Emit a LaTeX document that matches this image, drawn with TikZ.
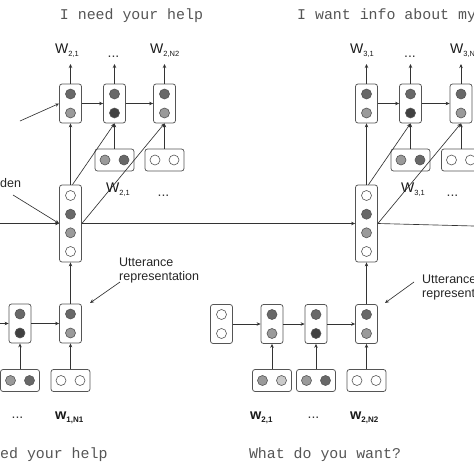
\documentclass[tikz,border=0pt]{standalone}
\usepackage{fontspec}
\setmainfont{Liberation Sans}
\newfontfamily\monofont{Liberation Mono}
\usetikzlibrary{arrows.meta,calc}
\definecolor{cA}{HTML}{686868}
\definecolor{cB}{HTML}{9A9A9A}
\definecolor{cC}{HTML}{404040}
\definecolor{cD}{HTML}{CACACA}
\definecolor{lineC}{HTML}{333333}
\definecolor{boxC}{HTML}{555555}
\definecolor{titleC}{HTML}{555555}
\tikzset{
 cellbox/.style={draw=boxC, line width=0.75pt, rounded corners=2.5pt, inner sep=0pt, fill=white},
 vbox/.style={cellbox, minimum width=22pt, minimum height=39pt},
 hbox/.style={cellbox, minimum width=39pt, minimum height=22pt},
 ctxbox/.style={cellbox, minimum width=22pt, minimum height=77pt},
 unit/.style={circle, draw=boxC, line width=0.6pt, minimum size=10pt, inner sep=0pt},
 conn/.style={draw=lineC, line width=0.65pt},
 arr/.style={conn, -{Stealth[length=4pt,width=3.5pt]}},
 title/.style={font=\monofont\fontsize{14.9}{16}\selectfont, text=titleC, inner sep=0pt},
 lbl/.style={font=\fontsize{12.5}{14}\selectfont, text=black!85, inner sep=0pt, anchor=base west},
 wlab/.style={font=\fontsize{14}{15}\selectfont, text=black!90, inner sep=0pt, anchor=base west},
 blab/.style={font=\bfseries\fontsize{14.5}{15}\selectfont, text=black!90, inner sep=0pt, anchor=base west},
 dots/.style={font=\fontsize{14}{15}\selectfont, text=black!80, inner sep=0pt},
}
\newcommand\lowsub[1]{\raisebox{-3.5pt}{\fontsize{7.5}{8}\selectfont #1}}
\newcommand\blowsub[1]{\raisebox{-3.5pt}{\fontsize{8}{9}\selectfont #1}}
\newcommand\vcell[5]{%
 \node[vbox] (#1) at (#2,#3) {};
 \node[unit, fill=#4] (#1a) at (#2,#3-9.5) {};
 \node[unit, fill=#5] (#1b) at (#2,#3+9.5) {};}
\newcommand\hcell[5]{%
 \node[hbox] (#1) at (#2,#3) {};
 \node[unit, fill=#4] (#1a) at (#2-9.5,#3) {};
 \node[unit, fill=#5] (#1b) at (#2+9.5,#3) {};}
\newcommand\ctxcell[3]{%
 \node[ctxbox] (#1) at (#2,#3) {};
 \node[unit, fill=white] (#1a) at (#2,#3-28) {};
 \node[unit, fill=cA] (#1b) at (#2,#3-9.3) {};
 \node[unit, fill=cB] (#1c) at (#2,#3+9.3) {};
 \node[unit, fill=white] (#1d) at (#2,#3+28) {};}
\begin{document}
\begin{tikzpicture}[x=1pt,y=-1pt]
\useasboundingbox (0,0) rectangle (474,474);
% titles
\node[title] (t1) at (131.5,15.5) {I need your help};
\node[title, anchor=west] (t2) at (297,15.5) {I want info about my};
\node[title, anchor=west] (t3) at (0,455) {ed your help};
\node[title] (t4) at (325,455) {What do you want?};

% ---- top-left decoder
\vcell{d1}{70.5}{103.5}{cA}{cB}
\vcell{d2}{114.5}{103.5}{cA}{cC}
\vcell{d3}{164.5}{103.5}{cA}{cB}
\hcell{di1}{114.5}{160}{cB}{cA}
\hcell{di2}{164.5}{160}{white}{white}
\ctxcell{c1}{70.5}{223.5}

% ---- bottom-left encoder
\vcell{eA}{20}{323.5}{cA}{cC}
\vcell{eB}{70.5}{323.5}{cA}{cB}
\hcell{ei1}{20}{380.5}{cB}{cA}
\hcell{ei2}{70.5}{380.5}{white}{white}

% ---- bottom-right encoder
\vcell{f0}{221.5}{324}{white}{white}
\vcell{f1}{272}{324}{cA}{cB}
\vcell{f2}{316}{324}{cA}{cC}
\vcell{f3}{366.5}{324}{cA}{cB}
\hcell{fi1}{272}{380.5}{cB}{cD}
\hcell{fi2}{316}{380.5}{cB}{cA}
\hcell{fi3}{366.5}{380.5}{white}{white}
\ctxcell{c2}{366.5}{223.5}

% ---- top-right decoder
\vcell{g1}{366.5}{103.5}{cA}{cB}
\vcell{g2}{410.5}{103.5}{cA}{cC}
\vcell{g3}{461}{103.5}{cA}{cB}
\hcell{gi1}{410.5}{160}{cB}{cA}
\hcell{gi2}{461}{160}{white}{white}

% free ends
\coordinate (d1o) at (70.5,64);
\coordinate (d3o) at (164.5,64);
\coordinate (d2o) at (114.5,64);
\coordinate (g1o) at (366.5,64);
\coordinate (g2o) at (410.5,64);
\coordinate (g3o) at (461,64);
\coordinate (tl) at (20,121);
\coordinate (hin) at (0,223.5);
\coordinate (ein) at (0,323.5);
\coordinate (rout) at (474,226);
\coordinate (denS) at (13,195);
\coordinate (u1S) at (120,282);
\coordinate (u1E) at (90,303);
\coordinate (u2S) at (414,282);
\coordinate (u2E) at (385,303);

% connectors top-left
\draw[arr] (d1) -- (d1o);
\draw[arr] (d2) -- (d2o);
\draw[arr] (d3) -- (d3o);
\draw[arr] (d1) -- (d2);
\draw[arr] (d2) -- (d3);
\draw[arr] (di1) -- (d2);
\draw[arr] (di2) -- (d3);
\draw[arr] (c1) -- (d1);
\draw[arr] ($(c1.north)+(2,0)$) -- (d2.south);
\draw[arr] (c1.east) -- (d3.south);
\draw[arr] (tl) -- (d1.west);
\draw[arr] (hin) -- (c1.west);
\draw[arr] (denS) -- (c1.west);
\draw[arr] (c1.east) -- (c2.west);

% encoder left
\draw[arr] (ein) -- (eA.west);
\draw[arr] (eA) -- (eB);
\draw[arr] (ei1) -- (eA);
\draw[arr] (ei2) -- (eB);
\draw[arr] (eB) -- (c1);
\draw[arr] (u1S) -- (u1E);

% encoder right
\draw[arr] (f0) -- (f1);
\draw[arr] (f1) -- (f2);
\draw[arr] (f2) -- (f3);
\draw[arr] (fi1) -- (f1);
\draw[arr] (fi2) -- (f2);
\draw[arr] (fi3) -- (f3);
\draw[arr] (f3) -- (c2);
\draw[arr] (u2S) -- (u2E);

% decoder right
\draw[arr] (c2) -- (g1);
\draw[arr] ($(c2.north)+(2,0)$) -- (g2.south);
\draw[arr] (c2.east) -- (g3.south);
\draw[conn] (c2.east) -- (rout);
\draw[arr] (g1) -- (g2);
\draw[arr] (g2) -- (g3);
\draw[arr] (gi1) -- (g2);
\draw[arr] (gi2) -- (g3);
\draw[arr] (g1) -- (g1o);
\draw[arr] (g2) -- (g2o);
\draw[arr] (g3) -- (g3o);

% labels
\node[wlab] (w21) at (55,53) {W\lowsub{2,1}};
\node[dots] (dt1) at (113.5,57) {...};
\node[wlab] (w2n) at (150,53) {W\lowsub{2,N2}};
\node[wlab] (w31) at (350,53) {W\lowsub{3,1}};
\node[dots] (dt2) at (410,57) {...};
\node[wlab] (w3n) at (450,53) {W\lowsub{3,N}};
\node[wlab] (m21) at (106,192) {W\lowsub{2,1}};
\node[dots] (dt3) at (163.5,196) {...};
\node[wlab] (m31) at (401,192) {W\lowsub{3,1}};
\node[dots] (dt4) at (452.5,196) {...};
\node[lbl] (den) at (0,187) {den};
\node[lbl] (u1a) at (119,266) {Utterance};
\node[lbl] (u1b) at (119,280.5) {representation};
\node[lbl] (u2a) at (422,283) {Utterance};
\node[lbl] (u2b) at (422,297.5) {representation};
\node[dots] (dt5) at (17.5,418) {...};
\node[blab] (b1n) at (55,419) {w\blowsub{1,N1}};
\node[blab] (b21) at (250,419) {w\blowsub{2,1}};
\node[dots] (dt6) at (313.5,418) {...};
\node[blab] (b2n) at (350,419) {w\blowsub{2,N2}};
\end{tikzpicture}
\end{document}
